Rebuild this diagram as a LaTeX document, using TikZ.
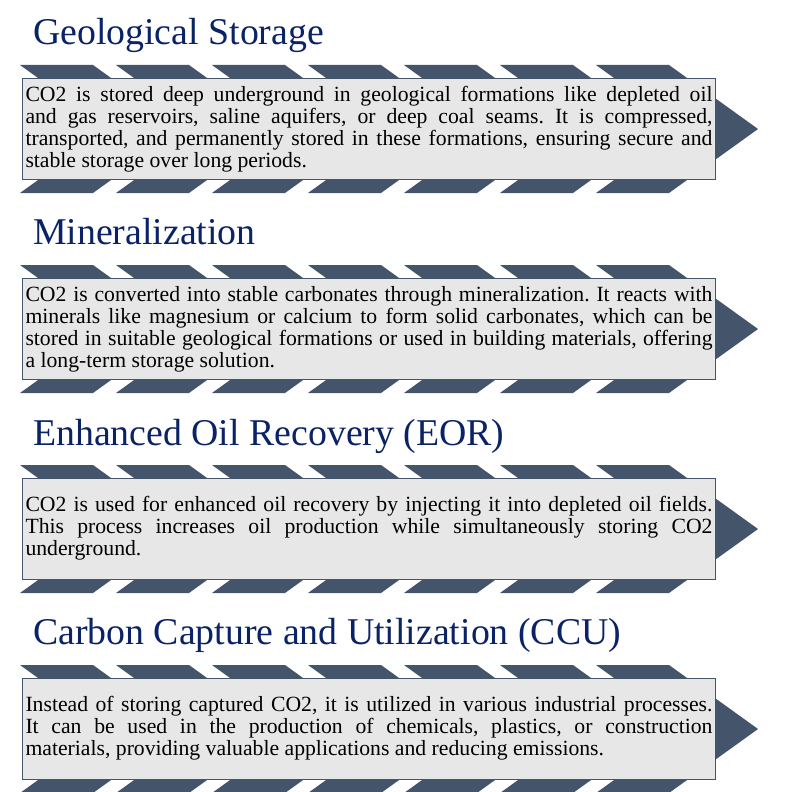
\documentclass[tikz,border=0pt]{standalone}
\usepackage{fontspec}
\setmainfont{Liberation Serif}
\definecolor{chev}{HTML}{44546A}
\definecolor{ttl}{HTML}{0A2366}
\definecolor{boxfill}{HTML}{E7E7E7}
\frenchspacing
\begin{document}
\begin{tikzpicture}[x=1pt,y=-1pt,
  chevshape/.style={fill=chev},
  titletext/.style={anchor=base west, text=ttl, font=\fontsize{37.8}{40}\selectfont, inner sep=0pt},
  bodybox/.style={draw=chev, line width=1pt, fill=boxfill, text width=687pt, inner xsep=3pt, inner ysep=0pt, minimum height=101pt, align=justify, anchor=north west, font=\fontsize{21.7}{22}\selectfont}]
\useasboundingbox[fill=white] (0,0) rectangle (786,792);
\foreach \k in {0,...,3}{
  \foreach \i in {0,...,6}{
    \fill[chevshape] ({20+96*\i},{65+200*\k}) -- ++(73,0) -- ++(89,64) -- ++(-89,64) -- ++(-73,0) -- ++(89,-64) -- cycle;
  }
}
\node[titletext] (t1) at (33,45) {Geological Storage};
\node[titletext] (t2) at (33,244.5) {Mineralization};
\node[titletext] (t3) at (33,445) {Enhanced Oil Recovery (EOR)};
\node[titletext] (t4) at (33,644.5) {Carbon Capture and Utilization (CCU)};
\node[bodybox] (b1) at (22,78) {CO2 is stored deep underground in geological formations like depleted oil\linebreak and gas reservoirs, saline aquifers, or deep coal seams. It is compressed,\linebreak transported, and permanently stored in these formations, ensuring secure and\linebreak stable storage over long periods.};
\node[bodybox] (b2) at (22,278) {CO2 is converted into stable carbonates through mineralization. It reacts with\linebreak minerals like magnesium or calcium to form solid carbonates, which can be\linebreak stored in suitable geological formations or used in building materials, offering\linebreak a long-term storage solution.};
\node[bodybox] (b3) at (22,477.5) {CO2 is used for enhanced oil recovery by injecting it into depleted oil fields.\linebreak This process increases oil production while simultaneously storing CO2\linebreak underground.};
\node[bodybox] (b4) at (22,677.5) {Instead of storing captured CO2, it is utilized in various industrial processes.\linebreak It can be used in the production of chemicals, plastics, or construction\linebreak materials, providing valuable applications and reducing emissions.};
\end{tikzpicture}
\end{document}
